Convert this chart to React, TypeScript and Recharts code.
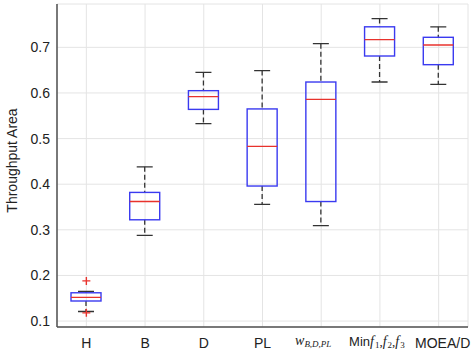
import {
    ComposedChart,
    Bar,
    Scatter,
    XAxis,
    YAxis,
    CartesianGrid,
} from 'recharts';

const categories = ['H', 'B', 'D', 'PL', 'wBDPL', 'Minf123', 'MOEA/D'];
const whiskerLow = [0.121, 0.288, 0.533, 0.356, 0.309, 0.624, 0.619];
const quartile1 = [0.144, 0.322, 0.564, 0.396, 0.362, 0.681, 0.662];
const medians = [0.152, 0.362, 0.592, 0.483, 0.586, 0.717, 0.705];
const quartile3 = [0.162, 0.382, 0.605, 0.565, 0.624, 0.745, 0.722];
const whiskerHigh = [0.165, 0.438, 0.645, 0.649, 0.708, 0.763, 0.745];
const outliersHigh = [0.188, null, null, null, null, null, null];
const outliersLow = [0.118, null, null, null, null, null, null];
const yTicks = [0.1, 0.2, 0.3, 0.4, 0.5, 0.6, 0.7];

const data = categories.map((name, i) => ({
    name,
    lo: whiskerLow[i],
    q1: quartile1[i],
    med: medians[i],
    q3: quartile3[i],
    hi: whiskerHigh[i],
    outHigh: outliersHigh[i],
    outLow: outliersLow[i],
}));

const FONT = '"Liberation Sans", Arial, sans-serif';
const MATH = '"Liberation Serif", "Times New Roman", serif';
const BLUE = '#3a3af0';
const RED = '#e8322c';

// box drawn inside the whisker range bar, values mapped along the bar's own pixels
const BoxShape = (props: any) => {
    const { x, y, width, height, payload } = props;
    if (!payload || !Number.isFinite(y)) return null;
    const top = Math.min(y, y + height);
    const h = Math.abs(height);
    const span = payload.hi - payload.lo;
    const pix = (v: number) => top + ((payload.hi - v) / span) * h;
    const cx = x + width / 2;
    const half = width / 2;
    const cap = 8;
    return (
        <g>
            <line x1={cx} x2={cx} y1={pix(payload.hi)} y2={pix(payload.q3)} stroke="#333" strokeWidth={1.3} strokeDasharray="5 3" />
            <line x1={cx} x2={cx} y1={pix(payload.q1)} y2={pix(payload.lo)} stroke="#333" strokeWidth={1.3} strokeDasharray="5 3" />
            <line x1={cx - cap} x2={cx + cap} y1={pix(payload.hi)} y2={pix(payload.hi)} stroke="#333" strokeWidth={1.3} />
            <line x1={cx - cap} x2={cx + cap} y1={pix(payload.lo)} y2={pix(payload.lo)} stroke="#333" strokeWidth={1.3} />
            <rect x={cx - half} y={pix(payload.q3)} width={width} height={pix(payload.q1) - pix(payload.q3)} fill="none" stroke={BLUE} strokeWidth={1.4} />
            <line x1={cx - half} x2={cx + half} y1={pix(payload.med)} y2={pix(payload.med)} stroke={RED} strokeWidth={1.4} />
        </g>
    );
};

const PlusShape = (props: any) => {
    const { cx, cy } = props;
    if (!Number.isFinite(cx) || !Number.isFinite(cy)) return null;
    return (
        <g stroke={RED} strokeWidth={1.4}>
            <line x1={cx - 4} x2={cx + 4} y1={cy} y2={cy} />
            <line x1={cx} x2={cx} y1={cy - 4} y2={cy + 4} />
        </g>
    );
};

const XTick = ({ x, y, payload }: any) => {
    const v = payload.value;
    const by = y + 21;
    if (v === 'wBDPL') {
        return (
            <text x={x - 8} y={by - 3} textAnchor="middle" fill="#222" fontFamily={MATH} fontStyle="italic">
                <tspan fontSize={14}>w</tspan>
                <tspan fontSize={9} dy={2}>B,D,PL</tspan>
            </text>
        );
    }
    if (v === 'Minf123') {
        return (
            <text x={x - 3} y={by - 2} textAnchor="middle" fill="#222" fontSize={13}>
                <tspan fontFamily={FONT}>Min</tspan>
                <tspan fontFamily={MATH} fontStyle="italic" fontSize={14}>f</tspan>
                <tspan fontFamily={MATH} fontSize={9} dy={2} dx={1}>1</tspan>
                <tspan fontFamily={MATH} fontSize={13} dy={-2}>,</tspan>
                <tspan fontFamily={MATH} fontStyle="italic" fontSize={14}>f</tspan>
                <tspan fontFamily={MATH} fontSize={9} dy={2} dx={1}>2</tspan>
                <tspan fontFamily={MATH} fontSize={13} dy={-2}>,</tspan>
                <tspan fontFamily={MATH} fontStyle="italic" fontSize={14}>f</tspan>
                <tspan fontFamily={MATH} fontSize={9} dy={2} dx={1}>3</tspan>
            </text>
        );
    }
    return (
        <text x={v === 'MOEA/D' ? x + 4 : x} y={by} textAnchor="middle" fill="#222" fontFamily={FONT} fontSize={14}>
            {v}
        </text>
    );
};

const YLabel = ({ viewBox }: any) => {
    const cy = viewBox.y + viewBox.height / 2 - 5;
    return (
        <text x={17} y={cy} transform={`rotate(-90, 17, ${cy})`} textAnchor="middle" fill="#222" fontFamily={FONT} fontSize={14}>
            Throughput Area
        </text>
    );
};

export default function App() {
    return (
        <div style={{ position: 'absolute', left: 0, top: 0, background: '#fff' }}>
            <ComposedChart width={474} height={351} data={data} margin={{ top: 4, right: 6, bottom: 0, left: 0 }}>
                <CartesianGrid stroke="#e4e4e4" strokeWidth={1} />
                <XAxis
                    dataKey="name"
                    height={24}
                    tickLine={false}
                    tickSize={0}
                    tickMargin={0}
                    tick={<XTick />}
                    interval={0}
                    axisLine={{ stroke: '#505050', strokeWidth: 1.5 }}
                />
                <XAxis xAxisId="top" dataKey="name" orientation="top" height={0} tick={false} tickLine={false} axisLine={{ stroke: '#8a8a8a', strokeWidth: 1.2 }} />
                <YAxis
                    type="number"
                    domain={[0.087, 0.795]}
                    ticks={yTicks}
                    allowDataOverflow
                    width={57}
                    tickLine={false}
                    tickSize={0}
                    tickMargin={7}
                    tickFormatter={(v: number) => v.toFixed(1)}
                    tick={{ fill: '#222', fontSize: 14, fontFamily: FONT }}
                    axisLine={{ stroke: '#505050', strokeWidth: 1.5 }}
                    label={<YLabel />}
                />
                <YAxis yAxisId="right" orientation="right" width={0} domain={[0.087, 0.795]} tick={false} tickLine={false} axisLine={{ stroke: '#8a8a8a', strokeWidth: 1.2 }} />
                <Bar dataKey={(d: any) => [d.lo, d.hi]} barSize={30} shape={<BoxShape />} isAnimationActive={false} />
                <Scatter dataKey="outHigh" shape={<PlusShape />} isAnimationActive={false} />
                <Scatter dataKey="outLow" shape={<PlusShape />} isAnimationActive={false} />
            </ComposedChart>
        </div>
    );
}
